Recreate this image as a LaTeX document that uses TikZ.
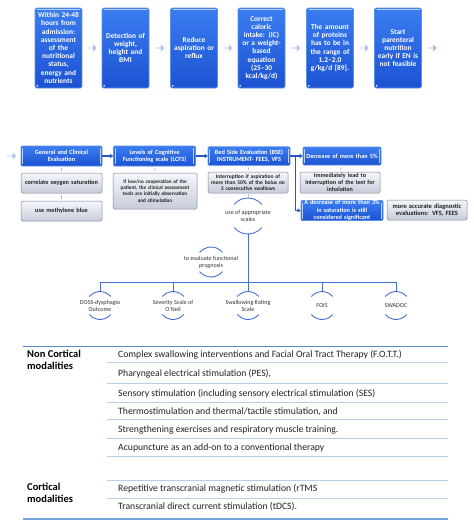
\documentclass[tikz,border=0pt]{standalone}
\usepackage{fontspec}
\setmainfont{Carlito}
\usetikzlibrary{shapes.arrows,arrows.meta,calc}
\definecolor{bxtop}{HTML}{3B7DF0}
\definecolor{bxbot}{HTML}{1C52D2}
\definecolor{bxline}{HTML}{5C8FE6}
\definecolor{bxbar}{HTML}{B7D0F7}
\definecolor{grtop}{HTML}{F4F6FA}
\definecolor{grbot}{HTML}{C6CDD9}
\definecolor{grline}{HTML}{7C8596}
\definecolor{arlight}{HTML}{A9C4EC}
\definecolor{connc}{HTML}{2A56C2}
\definecolor{treec}{HTML}{4A6FD3}
\definecolor{tabtop}{HTML}{5A8AD0}
\definecolor{tabsep}{HTML}{BACDE6}
\definecolor{tabbot}{HTML}{79A5DF}
\definecolor{txt}{HTML}{222222}
\definecolor{ringtxt}{HTML}{333333}
\newcommand\ringarcs[2]{%
  \draw[ringc] ($(#1.center)+(-40:#2)$) arc[start angle=-40, end angle=-140, radius=#2];
  \draw[ringc] ($(#1.center)+(40:#2)$) arc[start angle=40, end angle=140, radius=#2];}
\begin{document}
\begin{tikzpicture}[x=1pt,y=-1pt,
  topbox/.style={draw=bxline, line width=0.6pt, rounded corners=1.5pt,
    top color=bxtop, bottom color=bxbot, text=white,
    font=\fontsize{7.4}{8.2}\selectfont\bfseries, align=center, inner sep=0pt,
    minimum width=47pt, minimum height=80pt, text width=47pt,
    path picture={\draw[bxbar, line width=1.3pt]
      ([xshift=2pt,yshift=-1.6pt]path picture bounding box.north west) --
      ([xshift=-2pt,yshift=-1.6pt]path picture bounding box.north east);
      \fill[white] ([xshift=2.2pt,yshift=2.2pt]path picture bounding box.south west) circle (0.9pt);}},
  midbox/.style={draw=bxline, line width=0.6pt, rounded corners=1pt,
    top color=bxtop, bottom color=bxbot, text=white,
    font=\fontsize{6.3}{7.2}\selectfont\bfseries, align=center, inner sep=0pt,
    path picture={\draw[bxbar, line width=1pt]
      ([xshift=1.8pt,yshift=-2pt]path picture bounding box.north west) --
      ([xshift=1.8pt,yshift=2pt]path picture bounding box.south west);
      \draw[bxbar, line width=1pt]
      ([xshift=-1.8pt,yshift=-2pt]path picture bounding box.north east) --
      ([xshift=-1.8pt,yshift=2pt]path picture bounding box.south east);}},
  greybox/.style={draw=grline, line width=0.5pt, rounded corners=1.5pt,
    top color=grtop, bottom color=grbot, text=txt,
    font=\fontsize{6.3}{7.2}\selectfont\bfseries, align=center, inner sep=0pt},
  blockarrow/.style={single arrow, fill=arlight, draw=none, minimum height=9pt,
    minimum width=7pt, single arrow head extend=1.5pt, inner sep=0pt},
  connarrow/.style={draw=connc, line width=1.2pt, -{Triangle[length=3pt,width=4pt]}},
  tickline/.style={draw=gray!55, line width=0.7pt, shorten <=2pt, shorten >=2pt},
  ringc/.style={draw=treec, line width=0.9pt},
  treeline/.style={draw=treec, line width=0.9pt},
  ringtext/.style={font=\fontsize{6.1}{7}\selectfont, text=ringtxt, align=center, inner sep=0pt},
  rowtxt/.style={anchor=west, font=\fontsize{9.7}{11}\selectfont, text=txt, inner sep=0pt},
  rowhead/.style={anchor=north west, font=\fontsize{10.5}{12}\selectfont\bfseries, text=black, align=left, inner sep=0pt}
]
\useasboundingbox[fill=white] (0,0) rectangle (474,531);

% ---- top row
\node[topbox] (t1) at (58.5,48) {Within 24-48\\hours from\\admission:\\assessment\\of the\\nutritional\\status,\\energy and\\nutrients};
\node[topbox] (t2) at (125.5,48) {Detection of\\weight,\\height and\\BMI};
\node[topbox] (t3) at (194,48) {Reduce\\aspiration or\\reflux};
\node[topbox] (t4) at (261.5,48) {Correct\\caloric\\intake: (IC)\\or a weight-\\based\\equation\\(25–30\\kcal/kg/d)};
\node[topbox] (t5) at (330,48) {The amount\\of proteins\\has to be in\\the range of\\1.2–2.0\\g/kg/d [89].};
\node[topbox] (t6) at (398,48) {Start\\parenteral\\nutrition\\early if EN is\\not feasible};
\node[blockarrow] (a1) at ($(t1.east)!0.5!(t2.west)$) {};
\node[blockarrow] (a2) at ($(t2.east)!0.5!(t3.west)$) {};
\node[blockarrow] (a3) at ($(t3.east)!0.5!(t4.west)$) {};
\node[blockarrow] (a4) at ($(t4.east)!0.5!(t5.west)$) {};
\node[blockarrow] (a5) at ($(t5.east)!0.5!(t6.west)$) {};
\node[blockarrow] (a6) at (432,48) {};

% ---- middle flow
\node[blockarrow] (m0) at (11.5,156) {};
\node[midbox, minimum width=81pt, minimum height=20pt, text width=80pt] (g1) at (61.5,156) {General and Clinical\\Evaluation};
\node[midbox, minimum width=81pt, minimum height=20pt, text width=82pt] (g2) at (154.5,156) {Levels of Cognitive\\Functioning scale (LCFS)};
\node[midbox, minimum width=82pt, minimum height=18.5pt, text width=82pt] (g3) at (249,156) {Bed Side Evaluation (BSE)\\INSTRUMENT- FEES, VFS};
\node[midbox, minimum width=76pt, minimum height=18pt, text width=78pt] (d5) at (342,156) {Decrease of more than 5\%};
\node[midbox, minimum width=76pt, minimum height=19pt, text width=82pt, font=\fontsize{6.2}{7.3}\selectfont\bfseries] (d3) at (342,210.5) {A decrease of more than 3\%\\in saturation is still\\considered significant};

\node[greybox, minimum width=81pt, minimum height=20pt, text width=80pt] (c1) at (61.5,183) {correlate oxygen saturation};
\node[greybox, minimum width=81pt, minimum height=20pt, text width=80pt] (c2) at (61.5,211) {use methylene blue};
\node[greybox, minimum width=84pt, minimum height=36pt, text width=82pt, font=\fontsize{5.2}{6.3}\selectfont\bfseries] (l1) at (155,191) {If low/no cooperation of the\\patient, the clinical assessment\\tools are initially observation\\and stimulation};
\node[greybox, minimum width=80pt, minimum height=21pt, text width=80pt, font=\fontsize{5.5}{6.3}\selectfont\bfseries] (b1) at (248,182.5) {Interruption if aspiration of\\more than 50\% of the bolus on\\3 consecutive swallows};
\node[greybox, minimum width=80pt, minimum height=21pt, text width=80pt, font=\fontsize{6.1}{6.8}\selectfont\bfseries] (im) at (340,182.5) {Immediately lead to\\interruption of the test for\\inhalation};
\node[greybox, minimum width=80pt, minimum height=20pt, text width=80pt, font=\fontsize{6.5}{7.4}\selectfont\bfseries] (ma) at (427,210) {more accurate diagnostic\\evaluations: VFS, FEES};

\draw[connarrow] (g1) -- (g2);
\draw[connarrow] (g2) -- (g3);
\draw[connarrow] (g3.east) -- (d5.west);
\coordinate (fork) at ($(g3.east)!0.45!(d5.west)$);
\draw[connarrow] (fork) |- (d3.west);

\draw[tickline] (g1.south) -- (c1.north);
\draw[tickline] (c1.south) -- (c2.north);
\draw[tickline] (g2.south) -- (l1.north);
\draw[tickline] (g3.south) -- (b1.north);
\draw[tickline] (d5.south) -- (im.north);
\draw[tickline] (d3.east) -- (ma.west);

% ---- scales tree
\node[ringtext] (sc) at (248,216) {use of appropriate\\scales};
\ringarcs{sc}{18}
\coordinate (sct) at ($(sc.center)+(0,-18)$);
\coordinate (scb) at ($(sc.center)+(0,18)$);
\draw[tickline, draw=arlight, shorten <=1pt, shorten >=1pt] (b1.south) -- (sct);

\node[ringtext] (ev) at (211,262) {to evaluate functional\\prognosis};
\ringarcs{ev}{15}

\node[ringtext] (q1) at (100,305.5) {DOSS-dysphagia\\Outcome};
\node[ringtext] (q2) at (173,305.5) {Severity Scale of\\O'Neil};
\node[ringtext] (q3) at (248,305.5) {Swallowing Rating\\Scale};
\node[ringtext] (q4) at (322,305.5) {FOIS};
\node[ringtext] (q5) at (396,305.5) {SWADOC};
\foreach \q in {q1,q2,q3,q4,q5}{
  \ringarcs{\q}{14}
  \coordinate (\q t) at ($(\q.center)+(0,-14)$);
}
\draw[treeline] (q1t) -- ++(0,-9) coordinate (h1) -| (q5t);
\draw[treeline] (scb) -- (q3t);
\draw[treeline] (q2t) -- (q2t |- h1);
\draw[treeline] (q4t) -- (q4t |- h1);

% ---- table
\draw[tabtop, line width=1pt] (23,346) -- (448,346);
\foreach \yy in {362,383,402,419,438,456,480,498}
  \draw[tabsep, line width=0.8pt] (107,\yy) -- (448,\yy);
\draw[tabbot, line width=1.5pt] (23,519) -- (448,519);

\node[rowhead] (nc) at (27,350) {Non Cortical\\modalities};
\node[rowhead] (co) at (27,483) {Cortical\\modalities};

\node[rowtxt] (r1) at (118,355) {Complex swallowing interventions and Facial Oral Tract Therapy (F.O.T.T.)};
\node[rowtxt] (r2) at (118,374) {Pharyngeal electrical stimulation (PES),};
\node[rowtxt] (r3) at (118,394) {Sensory stimulation (including sensory electrical stimulation (SES)};
\node[rowtxt] (r4) at (118,411.5) {Thermostimulation and thermal/tactile stimulation, and};
\node[rowtxt] (r5) at (118,430) {Strengthening exercises and respiratory muscle training.};
\node[rowtxt] (r6) at (118,448) {Acupuncture as an add-on to a conventional therapy};
\node[rowtxt] (r7) at (118,489) {Repetitive transcranial magnetic stimulation (rTMS};
\node[rowtxt] (r8) at (118,507) {Transcranial direct current stimulation (tDCS).};
\end{tikzpicture}
\end{document}
